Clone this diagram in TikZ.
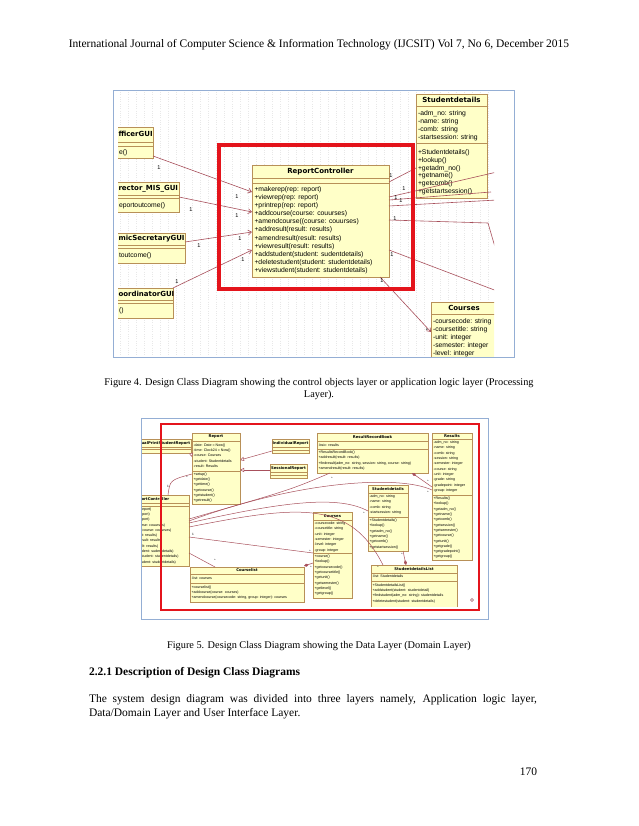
\documentclass[tikz,border=0pt]{standalone}
\usepackage{fontspec}
\setmainfont{Liberation Serif}
\newfontfamily\umlsans{Liberation Sans}
\newfontfamily\umlwide{DejaVu Sans}
\usetikzlibrary{arrows.meta, calc, fit}
\definecolor{clsfill}{HTML}{FFFFC8}
\definecolor{clsdraw}{HTML}{B89058}
\definecolor{assoc}{HTML}{A8505C}
\definecolor{hilite}{HTML}{E4141C}
\definecolor{frameblue}{HTML}{94AED4}
\tikzset{
  clsbox/.style={draw=clsdraw, fill=clsfill, line width=0.7pt, inner sep=0pt, outer sep=0pt},
  clsline/.style={draw=clsdraw, line width=0.7pt},
  assoc/.style={draw=assoc, line width=0.6pt},
  nav/.style={-{Straight Barb[length=3.5pt,width=5pt]}},
  gen/.style={-{Triangle[open, length=4pt, width=4pt, fill=white]}},
  comp/.style={-{Diamond[length=5pt,width=3pt]}},
  title4/.style={font=\umlwide\bfseries\fontsize{7}{8}\selectfont},
  members4/.style={font=\umlsans\fontsize{6.8}{8.1}\selectfont, align=left, anchor=north west},
  mult4/.style={font=\umlsans\fontsize{5.5}{6}\selectfont},
  title5/.style={font=\umlwide\bfseries\fontsize{3.8}{4}\selectfont},
  members5/.style={font=\umlsans\fontsize{3.6}{5.3}\selectfont, align=left, anchor=north west},
  mult5/.style={font=\umlsans\fontsize{3.2}{4}\selectfont},
  pagetext/.style={font=\fontsize{11.5}{13.6}\selectfont},
  captiontext/.style={font=\fontsize{10.3}{12.6}\selectfont},
  framebox/.style={draw=frameblue, line width=0.9pt},
  redbox/.style={draw=hilite}
}
% class box with name and two divider lines
\newcommand{\umlclass}[7]{%
  \node[clsbox, fit={(#2,#3) (#4,#7)}] (#1) {};
  \draw[clsline] (#2,#5) -- (#4,#5) (#2,#6) -- (#4,#6);
}

\begin{document}
\begin{tikzpicture}[x=1pt, y=-1pt, every node/.style={inner sep=0pt, outer sep=0pt}]
\useasboundingbox[fill=white] (0,0) rectangle (638,826);

\node[pagetext] (header) at (319,45) {International Journal of Computer Science \& Information Technology (IJCSIT) Vol 7, No 6, December 2015};

% ---- Figure 4 ----
\begin{scope}
  \clip (118,91) rectangle (494,356.5);
  \draw[gray!18, dotted, line width=0.3pt, step=8] (118,91) grid (494,357);
  \umlclass{officer}{100}{127}{153}{142}{146}{158}
  \umlclass{rector}{100}{182}{179}{195}{198}{212}
  \umlclass{secretary}{100}{233}{185}{245}{248}{263}
  \umlclass{coordinator}{100}{288}{173}{300}{303}{318}
  \umlclass{rc}{252}{165}{389}{178}{183}{277}
  \umlclass{sd}{416}{94}{487}{106}{143}{198}
  \umlclass{courses}{431}{302}{510}{314}{370}{380}
  \node[title4, anchor=west] (officer-t) at (118.5,134) {fficerGUI};
  \node[members4] (officer-m) at (119,149.5) {e()};
  \node[title4, anchor=west] (rector-t) at (118.5,188.5) {rector\_MIS\_GUI};
  \node[members4] (rector-m) at (119,202.5) {eportoutcome()};
  \node[title4, anchor=west] (secretary-t) at (118.5,239) {micSecretaryGUI};
  \node[members4] (secretary-m) at (119,253) {toutcome()};
  \node[title4, anchor=west] (coordinator-t) at (118.5,294) {oordinatorGUI};
  \node[members4] (coordinator-m) at (119,308) {()};
  \node[title4] (rc-t) at (320.5,171.5) {ReportController};
  \node[members4] (rc-m) at (254.5,186.5) {+makerep(rep: report)\\+viewrep(rep: report)\\+printrep(rep: report)\\+addcourse(course: couurses)\\+amendcourse((course: couurses)\\+addresult(result: results)\\+amendresult(result: results)\\+viewresult(result: results)\\+addstudent(student: sudentdetails)\\+deletestudent(student: studentdetails)\\+viewstudent(student: studentdetails)};
  \node[title4] (sd-t) at (451.5,100) {Studentdetails};
  \node[members4, font=\umlsans\fontsize{6.8}{7.9}\selectfont] (sd-a) at (418,110.5) {-adm\_no: string\\-name: string\\-comb: string\\-startsession: string};
  \node[members4, font=\umlsans\fontsize{6.8}{7.8}\selectfont] (sd-m) at (418,149.5) {+Studentdetails()\\+lookup()\\+getadm\_no()\\+getname()\\+getcomb()\\+getstartsession()};
  \node[title4] (courses-t) at (464,308) {Courses};
  \node[members4, font=\umlsans\fontsize{6.8}{8}\selectfont] (courses-a) at (433,318.5) {-coursecode: string\\-coursetitle: string\\-unit: integer\\-semester: integer\\-level: integer};
  % associations
  \coordinate (offa) at (497,172);
  \coordinate (offb) at (491,192);
  \coordinate (offc) at (497,200);
  \coordinate (offd) at (488,223);
  \coordinate (offe) at (497,254);
  \coordinate (offf) at (497,291);
  \draw[assoc, nav] (officer.east |- 0,156) -- (rc.west |- 0,192);
  \draw[assoc, nav] (rector.east |- 0,197) -- (rc.west |- 0,212);
  \draw[assoc, nav] (secretary.east |- 0,242) -- (rc.west |- 0,232);
  \draw[assoc, nav] (coordinator.north east |- 0,288) -- (rc.west |- 0,250);
  \draw[assoc] (rc.east |- 0,182) -- (sd.west |- 0,168);
  \draw[assoc] (rc.east |- 0,197) -- (offa);
  \draw[assoc] (rc.east |- 0,200) -- (offb);
  \draw[assoc] (rc.east |- 0,206) -- (offc);
  \draw[assoc] (rc.east |- 0,220) -- (offd) -- (offe);
  \draw[assoc] (rc.east |- 0,250) -- (offf);
  \draw[assoc, nav] (rc.south -| 380,0) -- (courses.west |- 0,332);
  \foreach \px/\py in {159/168, 237/197, 191/210, 237/216, 199/246, 240/239, 177/282, 243/260,
                        391/176, 404/189, 396/198, 401/201, 395/219, 392/255, 382/281}
    \node[mult4] at (\px,\py) {1};
  \node[mult4] at (413,174) {*};
  \node[mult4] at (427,331) {*};
\end{scope}
\draw[redbox, line width=3.5pt] (219,145) rectangle (413,289);
\draw[framebox] (113,90) rectangle (514,357);

\node[captiontext, align=center] (caption4) at (319,389) {Figure 4. Design Class Diagram showing the control objects layer or application logic layer (Processing\\Layer).};

% ---- Figure 5 ----
\begin{scope}
  \clip (141,419) rectangle (486,606);
  \umlclass{printrep}{120}{439}{191}{447}{449}{453}
  \umlclass{report}{192}{433}{240}{441}{471}{504}
  \umlclass{indiv}{272}{439}{309}{447}{450}{453}
  \umlclass{sessional}{270}{464}{307}{472}{475}{478}
  \umlclass{rrb}{317}{433}{428}{441}{449}{473}
  \umlclass{results}{432}{433}{472}{439.5}{495}{560}
  \umlclass{sd5}{368}{485}{408}{493}{517}{551}
  \umlclass{rc5}{110}{495}{189}{503}{506}{566}
  \umlclass{courses5}{313}{512}{352}{520}{553}{598}
  \umlclass{clist}{190}{567}{304}{574}{583}{602}
  \umlclass{sdlist}{371}{565}{457}{573}{581}{612}
  \node[title5, anchor=west] (printrep-t) at (141.5,443) {ualPrintStudentReport};
  \node[title5] (report-t) at (216,437) {Report};
  \node[members5] (report-a) at (193.5,443.5) {-date: Date = Now()\\-time: Clock24 = Now()\\-course: Courses\\-student: Studentdetails\\-result: Results};
  \node[members5] (report-m) at (193.5,472.5) {+setup()\\+getdate()\\+gettime()\\+getcourse()\\+getstudent()\\+getresult()};
  \node[title5] (indiv-t) at (290.5,443) {IndividualReport};
  \node[title5] (sessional-t) at (288.5,468) {SessionalReport};
  \node[title5] (rrb-t) at (372.5,437) {ResultRecordBook};
  \node[members5] (rrb-a) at (318.5,443.5) {-bsic: results};
  \node[members5] (rrb-m) at (318.5,451) {+ResultsRecordBook()\\+addresult(result: results)\\+findresult(adm\_no: string, session: string, course: string)\\+amendresult(result: results)};
  \node[title5] (results-t) at (452,436) {Results};
  \node[members5] (results-a) at (433.5,441) {-adm\_no: string\\-name: string\\-comb: string\\-session: string\\-semester: integer\\-course: string\\-unit: integer\\-grade: string\\-gradepoint: integer\\-group: integer};
  \node[members5] (results-m) at (433.5,497) {+Results()\\+lookup()\\+getadm\_no()\\+getname()\\+getcomb()\\+getsession()\\+getsemester()\\+getcourse()\\+getunit()\\+getgrade()\\+getgradepoint()\\+getgroup()};
  \node[title5] (sd5-t) at (388,489) {Studentdetails};
  \node[members5] (sd5-a) at (369.5,495) {-adm\_no: string\\-name: string\\-comb: string\\-startsession: string};
  \node[members5] (sd5-m) at (369.5,519) {+Studentdetails()\\+lookup()\\+getadm\_no()\\+getname()\\+getcomb()\\+getstartsession()};
  \node[title5, anchor=west] (rc5-t) at (141.5,499) {ortController};
  \node[members5] (rc5-m) at (116,507.5) {+makerep(rep: report)\\+viewrep(rep: report)\\+printrep(rep: report)\\+addcourse(course: couurses)\\+amendcourse((course: couurses)\\+addresult(result: results)\\+amendresult(result: results)\\+viewresult(result: results)\\+addstudent(student: sudentdetails)\\+deletestudent(student: studentdetails)\\+viewstudent(student: studentdetails)};
  \node[title5] (courses5-t) at (332.5,516) {Courses};
  \node[members5] (courses5-a) at (314.5,522) {-coursecode: string\\-coursetitle: string\\-unit: integer\\-semester: integer\\-level: integer\\-group: integer};
  \node[members5] (courses5-m) at (314.5,555) {+course()\\+lookup()\\+getcoursecode()\\+getcoursetitle()\\+getunit()\\+getsemester()\\+getlevel()\\+getgroup()};
  \node[title5] (clist-t) at (247,570.5) {Courselist};
  \node[members5] (clist-a) at (191.5,577) {-list: courses};
  \node[members5] (clist-m) at (191.5,585.5) {+courselist()\\+addcourse(course: courses)\\+amendcourse(coursecode: string, group: integer): courses};
  \node[title5] (sdlist-t) at (414,569) {StudentdetailsList};
  \node[members5] (sdlist-a) at (372.5,575) {-list: Studentdetails};
  \node[members5] (sdlist-m) at (372.5,583.5) {+StudentdetailsList()\\+addstudent(student: studentdetail)\\+findstudent(adm\_no: string): studentdetails\\+deletestudent(student: studentdetails)};
  \draw[assoc!80!gray, line width=0.4pt] (472,600) circle (1.5);
  % relations
  \draw[assoc, line width=0.5pt, gen] (indiv.west |- 0,451) -- (report.east |- 0,460);
  \draw[assoc, line width=0.5pt, gen] (sessional.west |- 0,470) -- (report.east |- 0,470);
  \draw[assoc, line width=0.5pt, gen] (printrep.east |- 0,453) -- (report.west |- 0,457);
  \draw[assoc, line width=0.5pt] (rc5.north -| 168,0) .. controls (170,480) .. (report.west |- 0,474);
  \draw[assoc, line width=0.5pt] (rc5.east |- 0,519) .. controls (290,490) .. (rrb.south -| 330,0);
  \draw[assoc, line width=0.5pt] (rc5.east |- 0,521) .. controls (300,480) and (400,475) .. (results.west |- 0,490);
  \draw[assoc, line width=0.5pt] (rc5.east |- 0,523) .. controls (290,500) and (340,496) .. (sd5.west |- 0,511);
  \draw[assoc, line width=0.5pt] (rc5.east |- 0,527) .. controls (300,505) and (350,500) .. (sdlist.north -| 383,0);
  \draw[assoc, line width=0.5pt] (rc5.east |- 0,537) -- (courses5.west |- 0,553);
  \draw[assoc, line width=0.5pt] (rc5.east |- 0,553) -- (clist.north -| 215,0);
  \draw[assoc, line width=0.5pt, comp] (courses5.west |- 0,563) -- (clist.east |- 0,566);
  \draw[assoc, line width=0.5pt, comp] (sd5.south -| 403,0) -- (sdlist.north -| 406,0);
  \draw[assoc, line width=0.5pt, comp] (results.west |- 0,487) -- (rrb.south -| 412,0);
  \foreach \px/\py in {168/486, 193/534}
    \node[mult5] at (\px,\py) {1};
  \foreach \px/\py in {187/477, 332/478, 428/492, 364/513, 378/567, 310/551, 215/560, 311/567, 402/554, 428/481}
    \node[mult5] at (\px,\py) {*};
\end{scope}
\draw[redbox, line width=2pt] (161,424) rectangle (479,610);
\draw[framebox] (141,418) rectangle (488,619);

\node[captiontext] (caption5) at (319,646) {Figure 5. Design Class Diagram showing the Data Layer (Domain Layer)};
\node[pagetext, font=\fontsize{11.5}{14}\selectfont\bfseries, anchor=west] (heading) at (89,673) {2.2.1 Description of Design Class Diagrams};
\node[pagetext, text width=448pt, align=justify, anchor=north west] (para) at (89,695) {The system design diagram was divided into three layers namely, Application logic layer,\linebreak Data/Domain Layer and User Interface Layer.};
\node[pagetext, anchor=east] (pageno) at (537,772) {170};
\end{tikzpicture}
\end{document}
